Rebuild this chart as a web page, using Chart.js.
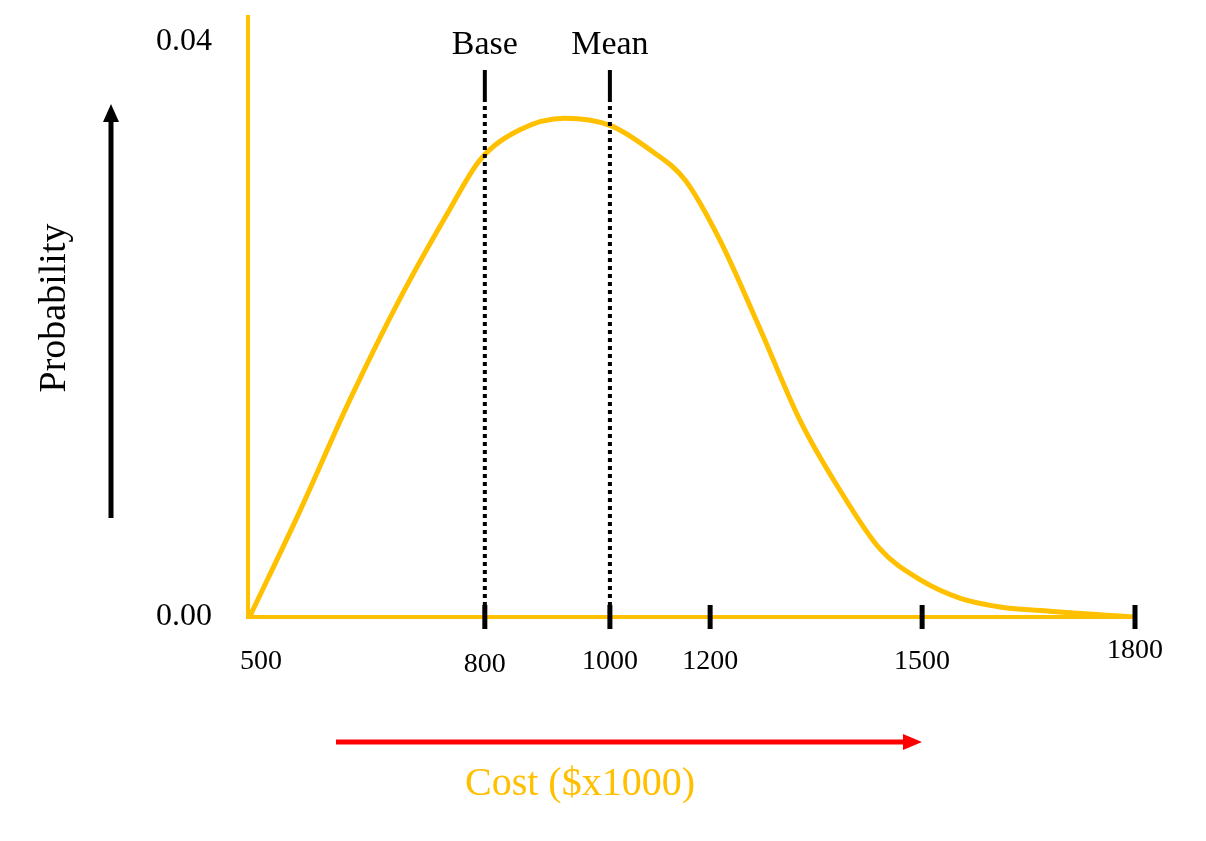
<!DOCTYPE html>
<html><head><meta charset="utf-8">
<script src="https://cdn.jsdelivr.net/npm/chart.js@4/dist/chart.umd.min.js"></script>
<style>html,body{margin:0;padding:0;background:#fff}#w{width:1206px;height:841px}</style>
</head><body><div id="w"><canvas id="c" width="1206" height="841"></canvas></div>
<script>
const costs = [502,566,629,692,755,794,856,928,1000,1080,1150,1214,1271,1327,1384,1441,1497,1554,1610,1680,1800];
const probs = [0,0.0074,0.0151,0.0221,0.0283,0.0318,0.0339,0.0347,0.0342,0.0325,0.0304,0.0262,0.0200,0.0137,0.0088,0.0047,0.0026,0.0013,0.0007,0.0004,0];
const xTicks = [500,800,1000,1200,1500,1800];
const xTickFrac = [0,0.267,0.408,0.521,0.760,1];
const yTicks = [0,0.04];
const markers = [{label:'Base',x:800},{label:'Mean',x:1000}];

class PiecewiseScale extends Chart.LinearScale {
  getPixelForValue(v){
    let f=0;
    for(let i=0;i<xTicks.length-1;i++){
      if(v<=xTicks[i+1]||i===xTicks.length-2){
        const t=(v-xTicks[i])/(xTicks[i+1]-xTicks[i]);
        f=xTickFrac[i]+t*(xTickFrac[i+1]-xTickFrac[i]);break;
      }
    }
    return this.getPixelForDecimal(f);
  }
}
PiecewiseScale.id='piecewise';
PiecewiseScale.defaults=Chart.LinearScale.defaults;
Chart.register(PiecewiseScale);

const ORANGE='#FFC000';
const deco={id:'deco',afterDatasetsDraw(ch){
  const c=ch.ctx,x=ch.scales.x,y=ch.scales.y;
  const F='"Liberation Serif","DejaVu Serif",serif';
  c.save();
  // axes in orange
  c.strokeStyle=ORANGE;c.lineWidth=4;
  c.beginPath();c.moveTo(x.getPixelForValue(500),y.getPixelForValue(0));c.lineTo(x.getPixelForValue(1800),y.getPixelForValue(0));c.stroke();
  c.beginPath();c.moveTo(x.getPixelForValue(500),y.getPixelForValue(0)+2);c.lineTo(x.getPixelForValue(500),15);c.stroke();
  // marker dotted lines
  c.strokeStyle='#000';c.lineWidth=4;
  markers.forEach(m=>{
    const px=x.getPixelForValue(m.x);
    c.setLineDash([]);c.beginPath();c.moveTo(px,70);c.lineTo(px,98);c.stroke();
    c.setLineDash([4,4]);c.beginPath();c.moveTo(px,98);c.lineTo(px,y.getPixelForValue(0));c.stroke();
    c.setLineDash([]);
    c.fillStyle='#000';c.font='34px '+F;c.textAlign='center';c.textBaseline='alphabetic';
    c.fillText(m.label,px,54);
  });
  // ticks
  c.lineWidth=5;c.strokeStyle='#000';
  xTicks.forEach((v,i)=>{
    if(i===0)return;
    const px=x.getPixelForValue(v),py=y.getPixelForValue(0);
    c.beginPath();c.moveTo(px,py-12);c.lineTo(px,py+12);c.stroke();
  });
  c.fillStyle='#000';c.font='28px '+F;c.textAlign='center';c.textBaseline='middle';
  const ly=[662,665,662,662,662,651];
  xTicks.forEach((v,i)=>c.fillText(String(v),x.getPixelForValue(v)+(i===0?13:0),ly[i]));
  c.font='32px '+F;c.textAlign='right';
  yTicks.forEach(v=>c.fillText(v.toFixed(2),212,y.getPixelForValue(v)));
  // probability arrow
  c.lineWidth=5;c.beginPath();c.moveTo(111,518);c.lineTo(111,120);c.stroke();
  c.beginPath();c.moveTo(103,122);c.lineTo(111,104);c.lineTo(119,122);c.closePath();c.fill();
  c.save();c.translate(55,308);c.rotate(-Math.PI/2);c.font='38px '+F;c.textAlign='center';c.fillText('Probability',0,0);c.restore();
  // cost arrow
  c.strokeStyle='#FF0000';c.fillStyle='#FF0000';c.lineWidth=5;
  c.beginPath();c.moveTo(336,742);c.lineTo(905,742);c.stroke();
  c.beginPath();c.moveTo(903,734);c.lineTo(922,742);c.lineTo(903,750);c.closePath();c.fill();
  c.fillStyle=ORANGE;c.font='40px '+F;c.textAlign='center';c.fillText('Cost ($x1000)',580,784);
  c.restore();
}};

new Chart(document.getElementById('c'),{
  type:'line',
  data:{datasets:[{data:costs.map((v,i)=>({x:v,y:probs[i]})),borderColor:ORANGE,borderWidth:5,pointRadius:0,cubicInterpolationMode:'monotone',fill:false}]},
  options:{responsive:false,animation:false,
    layout:{padding:{left:248,right:71,top:42,bottom:224}},
    plugins:{legend:{display:false},tooltip:{enabled:false}},
    scales:{x:{type:'piecewise',min:500,max:1800,display:false},y:{type:'linear',min:0,max:0.04,display:false}}
  },
  plugins:[deco]
});
</script></body></html>
